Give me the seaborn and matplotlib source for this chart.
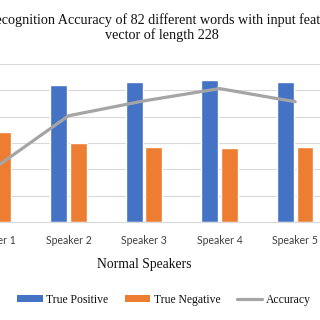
import pandas as pd
import matplotlib
matplotlib.use("Agg")
import matplotlib.pyplot as plt
from matplotlib.patches import Patch
from matplotlib.lines import Line2D
import seaborn as sns

speakers = ["Speaker 1", "Speaker 2", "Speaker 3", "Speaker 4", "Speaker 5"]
true_positive = [76, 78, 80, 81, 80]
true_negative = [51, 45, 43, 42, 43]
accuracy = [30, 60.5, 69, 76, 68.5]

BLUE = "#4472C4"
ORANGE = "#ED7D31"
GRAY = "#A5A5A5"

sns.set_theme(style="white")
plt.rcParams["font.family"] = ["Liberation Serif", "DejaVu Serif"]

df = pd.DataFrame({
    "speaker": speakers * 2,
    "value": true_positive + true_negative,
    "kind": ["True Positive"] * 5 + ["True Negative"] * 5,
})
df_acc = pd.DataFrame({"speaker": speakers, "accuracy": accuracy})

fig = plt.figure(figsize=(3.2, 3.2), dpi=100)
# plot area is wider than the picture (reference is cropped at both sides)
ax = fig.add_axes([-45 / 320, 1 - 222 / 320, 378 / 320, 158 / 320])

sns.barplot(data=df, x="speaker", y="value", hue="kind",
            palette=[BLUE, ORANGE], width=0.52, gap=0.14,
            saturation=1, legend=False, ax=ax)
sns.pointplot(data=df_acc, x="speaker", y="accuracy", color=GRAY,
              markers="", errorbar=None, linewidth=2.3, ax=ax)

ax.set_ylim(0, 90)
ax.set_yticks(range(0, 91, 15))
ax.yaxis.grid(True, color="#D9D9D9", linewidth=0.8)
ax.set_axisbelow(True)
ax.set_yticklabels([])
ax.tick_params(axis="y", length=0)
ax.tick_params(axis="x", length=0, pad=9)
for lbl in ax.get_xticklabels():
    lbl.set_family(["Lato", "DejaVu Sans"])
    lbl.set_fontsize(7.6)
    lbl.set_color("#404040")
for s in ["top", "left", "right"]:
    ax.spines[s].set_visible(False)
ax.spines["bottom"].set_color("#D9D9D9")
ax.spines["bottom"].set_linewidth(0.8)
ax.set_ylabel("")
ax.set_xlabel("Normal Speakers", fontsize=9.8, color="#111111", labelpad=9)

fig.text(162 / 320, 1 - 28 / 320,
         "Recognition Accuracy of 82 different words with input feature\nvector of length 228",
         ha="center", va="center", fontsize=10.2, color="#111111", linespacing=1.1)

handles = [
    Patch(facecolor=BLUE, edgecolor="none", label="True Positive"),
    Patch(facecolor=ORANGE, edgecolor="none", label="True Negative"),
    Line2D([0], [0], color=GRAY, linewidth=2.3, label="Accuracy"),
]
fig.legend(handles=handles, loc="center", bbox_to_anchor=(164 / 320, 1 - 300 / 320),
           ncol=3, frameon=False, fontsize=8.4, handlelength=2.2, handleheight=0.55,
           handletextpad=0.3, columnspacing=1.4, labelcolor="#111111")

fig.savefig("out.png", dpi=100)
